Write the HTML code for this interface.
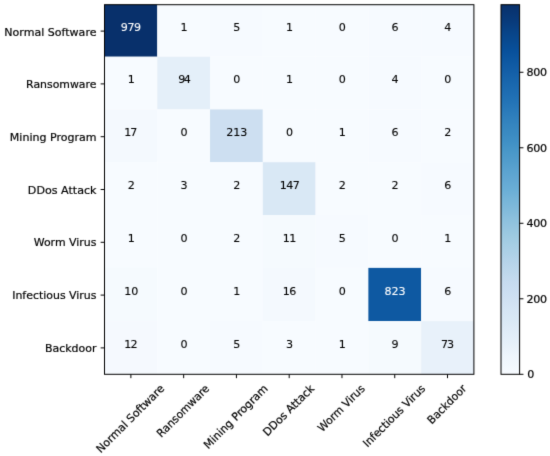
<!DOCTYPE html><html><head><meta charset="utf-8"><title>Confusion matrix</title><style>html,body{margin:0;padding:0;background:#fff;width:550px;height:456px;overflow:hidden}svg{display:block}text{font-family:"DejaVu Sans","Liberation Sans",sans-serif;font-size:11.1px;fill:#000;stroke:#000;stroke-width:0.2px}text.n{stroke-width:0.1px}text.w{fill:#fff;stroke:#fff}</style></head><body>
<svg width="550" height="456" viewBox="0 0 550 456">
<defs><linearGradient id="cb" x1="0" y1="1" x2="0" y2="0">
<stop offset="0.0000" stop-color="#f7fbff"/>
<stop offset="0.0250" stop-color="#f2f8fd"/>
<stop offset="0.0500" stop-color="#eef5fc"/>
<stop offset="0.0750" stop-color="#e8f1fa"/>
<stop offset="0.1000" stop-color="#e3eef9"/>
<stop offset="0.1250" stop-color="#deebf7"/>
<stop offset="0.1500" stop-color="#d9e8f5"/>
<stop offset="0.1750" stop-color="#d5e5f4"/>
<stop offset="0.2000" stop-color="#d0e1f2"/>
<stop offset="0.2250" stop-color="#cbdef1"/>
<stop offset="0.2500" stop-color="#c6dbef"/>
<stop offset="0.2750" stop-color="#bed8ec"/>
<stop offset="0.3000" stop-color="#b7d4ea"/>
<stop offset="0.3250" stop-color="#aed1e7"/>
<stop offset="0.3500" stop-color="#a6cee4"/>
<stop offset="0.3750" stop-color="#9dcae1"/>
<stop offset="0.4000" stop-color="#94c4df"/>
<stop offset="0.4250" stop-color="#8abfdd"/>
<stop offset="0.4500" stop-color="#7fb9da"/>
<stop offset="0.4750" stop-color="#75b4d8"/>
<stop offset="0.5000" stop-color="#6aaed6"/>
<stop offset="0.5250" stop-color="#63a8d3"/>
<stop offset="0.5500" stop-color="#5ba3d0"/>
<stop offset="0.5750" stop-color="#529dcc"/>
<stop offset="0.6000" stop-color="#4a98c9"/>
<stop offset="0.6250" stop-color="#4191c6"/>
<stop offset="0.6500" stop-color="#3b8bc2"/>
<stop offset="0.6750" stop-color="#3585bf"/>
<stop offset="0.7000" stop-color="#2e7ebc"/>
<stop offset="0.7250" stop-color="#2777b8"/>
<stop offset="0.7500" stop-color="#2070b4"/>
<stop offset="0.7750" stop-color="#1c6ab0"/>
<stop offset="0.8000" stop-color="#1764ab"/>
<stop offset="0.8250" stop-color="#125da6"/>
<stop offset="0.8500" stop-color="#0d57a1"/>
<stop offset="0.8750" stop-color="#08509b"/>
<stop offset="0.9000" stop-color="#084a91"/>
<stop offset="0.9250" stop-color="#084488"/>
<stop offset="0.9500" stop-color="#083c7d"/>
<stop offset="0.9750" stop-color="#083674"/>
<stop offset="1.0000" stop-color="#08306b"/>
</linearGradient><filter id="bl" x="0" y="0" width="550" height="456" filterUnits="userSpaceOnUse" primitiveUnits="userSpaceOnUse" color-interpolation-filters="sRGB"><feConvolveMatrix order="3" kernelMatrix="0.0113 0.0838 0.0113 0.0838 0.6193 0.0838 0.0113 0.0838 0.0113" divisor="1" edgeMode="duplicate" preserveAlpha="true"/></filter></defs>
<g filter="url(#bl)">
<rect width="550" height="456" fill="#fff"/>
<rect x="104.50" y="4.70" width="52.82" height="52.05" fill="#08306b"/>
<rect x="157.27" y="4.70" width="52.82" height="52.05" fill="#f7fbff"/>
<rect x="210.04" y="4.70" width="52.82" height="52.05" fill="#f6faff"/>
<rect x="262.81" y="4.70" width="52.82" height="52.05" fill="#f7fbff"/>
<rect x="315.59" y="4.70" width="52.82" height="52.05" fill="#f7fbff"/>
<rect x="368.36" y="4.70" width="52.82" height="52.05" fill="#f6faff"/>
<rect x="421.13" y="4.70" width="52.82" height="52.05" fill="#f6faff"/>
<rect x="104.50" y="56.70" width="52.82" height="52.75" fill="#f7fbff"/>
<rect x="157.27" y="56.70" width="52.82" height="52.75" fill="#e4eff9"/>
<rect x="210.04" y="56.70" width="52.82" height="52.75" fill="#f7fbff"/>
<rect x="262.81" y="56.70" width="52.82" height="52.75" fill="#f7fbff"/>
<rect x="315.59" y="56.70" width="52.82" height="52.75" fill="#f7fbff"/>
<rect x="368.36" y="56.70" width="52.82" height="52.75" fill="#f6faff"/>
<rect x="421.13" y="56.70" width="52.82" height="52.75" fill="#f7fbff"/>
<rect x="104.50" y="109.40" width="52.82" height="52.85" fill="#f4f9fe"/>
<rect x="157.27" y="109.40" width="52.82" height="52.85" fill="#f7fbff"/>
<rect x="210.04" y="109.40" width="52.82" height="52.85" fill="#cddff1"/>
<rect x="262.81" y="109.40" width="52.82" height="52.85" fill="#f7fbff"/>
<rect x="315.59" y="109.40" width="52.82" height="52.85" fill="#f7fbff"/>
<rect x="368.36" y="109.40" width="52.82" height="52.85" fill="#f6faff"/>
<rect x="421.13" y="109.40" width="52.82" height="52.85" fill="#f7fbff"/>
<rect x="104.50" y="162.20" width="52.82" height="52.85" fill="#f7fbff"/>
<rect x="157.27" y="162.20" width="52.82" height="52.85" fill="#f7fbff"/>
<rect x="210.04" y="162.20" width="52.82" height="52.85" fill="#f7fbff"/>
<rect x="262.81" y="162.20" width="52.82" height="52.85" fill="#d9e8f5"/>
<rect x="315.59" y="162.20" width="52.82" height="52.85" fill="#f7fbff"/>
<rect x="368.36" y="162.20" width="52.82" height="52.85" fill="#f7fbff"/>
<rect x="421.13" y="162.20" width="52.82" height="52.85" fill="#f6faff"/>
<rect x="104.50" y="215.00" width="52.82" height="52.95" fill="#f7fbff"/>
<rect x="157.27" y="215.00" width="52.82" height="52.95" fill="#f7fbff"/>
<rect x="210.04" y="215.00" width="52.82" height="52.95" fill="#f7fbff"/>
<rect x="262.81" y="215.00" width="52.82" height="52.95" fill="#f5fafe"/>
<rect x="315.59" y="215.00" width="52.82" height="52.95" fill="#f6faff"/>
<rect x="368.36" y="215.00" width="52.82" height="52.95" fill="#f7fbff"/>
<rect x="421.13" y="215.00" width="52.82" height="52.95" fill="#f7fbff"/>
<rect x="104.50" y="267.90" width="52.82" height="53.25" fill="#f5fafe"/>
<rect x="157.27" y="267.90" width="52.82" height="53.25" fill="#f7fbff"/>
<rect x="210.04" y="267.90" width="52.82" height="53.25" fill="#f7fbff"/>
<rect x="262.81" y="267.90" width="52.82" height="53.25" fill="#f4f9fe"/>
<rect x="315.59" y="267.90" width="52.82" height="53.25" fill="#f7fbff"/>
<rect x="368.36" y="267.90" width="52.82" height="53.25" fill="#0e59a2"/>
<rect x="421.13" y="267.90" width="52.82" height="53.25" fill="#f6faff"/>
<rect x="104.50" y="321.10" width="52.82" height="53.25" fill="#f5f9fe"/>
<rect x="157.27" y="321.10" width="52.82" height="53.25" fill="#f7fbff"/>
<rect x="210.04" y="321.10" width="52.82" height="53.25" fill="#f6faff"/>
<rect x="262.81" y="321.10" width="52.82" height="53.25" fill="#f7fbff"/>
<rect x="315.59" y="321.10" width="52.82" height="53.25" fill="#f7fbff"/>
<rect x="368.36" y="321.10" width="52.82" height="53.25" fill="#f5fafe"/>
<rect x="421.13" y="321.10" width="52.82" height="53.25" fill="#e8f1fa"/>
<text class="n w" x="130.98" y="31.00" text-anchor="middle" textLength="20.33" lengthAdjust="spacing">979</text>
<text class="n" x="183.96" y="31.00" text-anchor="middle">1</text>
<text class="n" x="236.73" y="31.00" text-anchor="middle">5</text>
<text class="n" x="289.50" y="31.00" text-anchor="middle">1</text>
<text class="n" x="342.27" y="31.00" text-anchor="middle">0</text>
<text class="n" x="395.04" y="31.00" text-anchor="middle">6</text>
<text class="n" x="447.81" y="31.00" text-anchor="middle">4</text>
<text class="n" x="131.19" y="83.00" text-anchor="middle">1</text>
<text class="n" x="184.54" y="83.00" text-anchor="middle" textLength="12.45" lengthAdjust="spacing">94</text>
<text class="n" x="236.73" y="83.00" text-anchor="middle">0</text>
<text class="n" x="289.50" y="83.00" text-anchor="middle">1</text>
<text class="n" x="342.27" y="83.00" text-anchor="middle">0</text>
<text class="n" x="395.04" y="83.00" text-anchor="middle">4</text>
<text class="n" x="447.81" y="83.00" text-anchor="middle">0</text>
<text class="n" x="130.74" y="136.00" text-anchor="middle" textLength="13.10" lengthAdjust="spacing">17</text>
<text class="n" x="183.96" y="136.00" text-anchor="middle">0</text>
<text class="n" x="236.77" y="136.00" text-anchor="middle" textLength="21.11" lengthAdjust="spacing">213</text>
<text class="n" x="289.50" y="136.00" text-anchor="middle">0</text>
<text class="n" x="342.27" y="136.00" text-anchor="middle">1</text>
<text class="n" x="395.04" y="136.00" text-anchor="middle">6</text>
<text class="n" x="447.81" y="136.00" text-anchor="middle">2</text>
<text class="n" x="131.19" y="189.00" text-anchor="middle">2</text>
<text class="n" x="183.96" y="189.00" text-anchor="middle">3</text>
<text class="n" x="236.73" y="189.00" text-anchor="middle">2</text>
<text class="n" x="289.70" y="189.00" text-anchor="middle" textLength="20.08" lengthAdjust="spacing">147</text>
<text class="n" x="342.27" y="189.00" text-anchor="middle">2</text>
<text class="n" x="395.04" y="189.00" text-anchor="middle">2</text>
<text class="n" x="447.81" y="189.00" text-anchor="middle">6</text>
<text class="n" x="131.19" y="242.00" text-anchor="middle">1</text>
<text class="n" x="183.96" y="242.00" text-anchor="middle">0</text>
<text class="n" x="236.73" y="242.00" text-anchor="middle">2</text>
<text class="n" x="289.53" y="242.00" text-anchor="middle" textLength="13.48" lengthAdjust="spacing">11</text>
<text class="n" x="342.27" y="242.00" text-anchor="middle">5</text>
<text class="n" x="395.04" y="242.00" text-anchor="middle">0</text>
<text class="n" x="447.81" y="242.00" text-anchor="middle">1</text>
<text class="n" x="131.21" y="295.00" text-anchor="middle" textLength="14.03" lengthAdjust="spacing">10</text>
<text class="n" x="183.96" y="295.00" text-anchor="middle">0</text>
<text class="n" x="236.73" y="295.00" text-anchor="middle">1</text>
<text class="n" x="289.51" y="295.00" text-anchor="middle" textLength="13.45" lengthAdjust="spacing">16</text>
<text class="n" x="342.27" y="295.00" text-anchor="middle">0</text>
<text class="n w" x="395.12" y="295.00" text-anchor="middle" textLength="21.03" lengthAdjust="spacing">823</text>
<text class="n" x="447.81" y="295.00" text-anchor="middle">6</text>
<text class="n" x="130.91" y="348.00" text-anchor="middle" textLength="13.43" lengthAdjust="spacing">12</text>
<text class="n" x="183.96" y="348.00" text-anchor="middle">0</text>
<text class="n" x="236.73" y="348.00" text-anchor="middle">5</text>
<text class="n" x="289.50" y="348.00" text-anchor="middle">3</text>
<text class="n" x="342.27" y="348.00" text-anchor="middle">1</text>
<text class="n" x="395.04" y="348.00" text-anchor="middle">9</text>
<text class="n" x="447.53" y="348.00" text-anchor="middle" textLength="13.27" lengthAdjust="spacing">73</text>
<rect x="104.50" y="4.70" width="369.40" height="369.60" fill="none" stroke="#000" stroke-width="1"/>
<line x1="100.65" y1="31.10" x2="104.50" y2="31.10" stroke="#000" stroke-width="1"/>
<text x="96.50" y="36.00" text-anchor="end" textLength="92.22" lengthAdjust="spacingAndGlyphs">Normal Software</text>
<line x1="100.65" y1="83.90" x2="104.50" y2="83.90" stroke="#000" stroke-width="1"/>
<text x="96.50" y="88.00" text-anchor="end" textLength="70.42" lengthAdjust="spacingAndGlyphs">Ransomware</text>
<line x1="100.65" y1="136.70" x2="104.50" y2="136.70" stroke="#000" stroke-width="1"/>
<text x="96.50" y="141.00" text-anchor="end" textLength="86.67" lengthAdjust="spacingAndGlyphs">Mining Program</text>
<line x1="100.65" y1="189.50" x2="104.50" y2="189.50" stroke="#000" stroke-width="1"/>
<text x="96.50" y="194.00" text-anchor="end" textLength="68.63" lengthAdjust="spacingAndGlyphs">DDos Attack</text>
<line x1="100.65" y1="242.30" x2="104.50" y2="242.30" stroke="#000" stroke-width="1"/>
<text x="96.50" y="246.00" text-anchor="end" textLength="62.74" lengthAdjust="spacingAndGlyphs">Worm Virus</text>
<line x1="100.65" y1="295.10" x2="104.50" y2="295.10" stroke="#000" stroke-width="1"/>
<text x="96.50" y="299.00" text-anchor="end" textLength="84.34" lengthAdjust="spacingAndGlyphs">Infectious Virus</text>
<line x1="100.65" y1="347.90" x2="104.50" y2="347.90" stroke="#000" stroke-width="1"/>
<text x="96.50" y="352.00" text-anchor="end" textLength="51.54" lengthAdjust="spacingAndGlyphs">Backdoor</text>
<line x1="130.89" y1="374.30" x2="130.89" y2="378.15" stroke="#000" stroke-width="1"/>
<text transform="translate(100.76,453.40) rotate(-45)" textLength="90.72" lengthAdjust="spacingAndGlyphs">Normal Software</text>
<line x1="183.66" y1="374.30" x2="183.66" y2="378.15" stroke="#000" stroke-width="1"/>
<text transform="translate(161.24,437.98) rotate(-45)" textLength="68.92" lengthAdjust="spacingAndGlyphs">Ransomware</text>
<line x1="236.43" y1="374.30" x2="236.43" y2="378.15" stroke="#000" stroke-width="1"/>
<text transform="translate(208.26,449.47) rotate(-45)" textLength="85.17" lengthAdjust="spacingAndGlyphs">Mining Program</text>
<line x1="289.20" y1="374.30" x2="289.20" y2="378.15" stroke="#000" stroke-width="1"/>
<text transform="translate(267.41,436.72) rotate(-45)" textLength="67.13" lengthAdjust="spacingAndGlyphs">DDos Attack</text>
<line x1="341.97" y1="374.30" x2="341.97" y2="378.15" stroke="#000" stroke-width="1"/>
<text transform="translate(322.27,432.55) rotate(-45)" textLength="61.24" lengthAdjust="spacingAndGlyphs">Worm Virus</text>
<line x1="394.74" y1="374.30" x2="394.74" y2="378.15" stroke="#000" stroke-width="1"/>
<text transform="translate(367.40,447.82) rotate(-45)" textLength="82.84" lengthAdjust="spacingAndGlyphs">Infectious Virus</text>
<line x1="447.51" y1="374.30" x2="447.51" y2="378.15" stroke="#000" stroke-width="1"/>
<text transform="translate(431.77,424.63) rotate(-45)" textLength="50.04" lengthAdjust="spacingAndGlyphs">Backdoor</text>
<rect x="501.00" y="4.70" width="18.60" height="369.60" fill="url(#cb)"/>
<rect x="501.00" y="4.70" width="18.60" height="369.60" fill="none" stroke="#000" stroke-width="1"/>
<line x1="519.60" y1="374.30" x2="523.45" y2="374.30" stroke="#000" stroke-width="1"/>
<text x="527.30" y="378.35">0</text>
<line x1="519.60" y1="298.79" x2="523.45" y2="298.79" stroke="#000" stroke-width="1"/>
<text x="526.50" y="302.84" textLength="20.59" lengthAdjust="spacing">200</text>
<line x1="519.60" y1="223.29" x2="523.45" y2="223.29" stroke="#000" stroke-width="1"/>
<text x="526.50" y="227.33" textLength="20.59" lengthAdjust="spacing">400</text>
<line x1="519.60" y1="147.78" x2="523.45" y2="147.78" stroke="#000" stroke-width="1"/>
<text x="526.50" y="151.83" textLength="20.59" lengthAdjust="spacing">600</text>
<line x1="519.60" y1="72.28" x2="523.45" y2="72.28" stroke="#000" stroke-width="1"/>
<text x="526.50" y="76.32" textLength="20.59" lengthAdjust="spacing">800</text>
</g></svg></body></html>
